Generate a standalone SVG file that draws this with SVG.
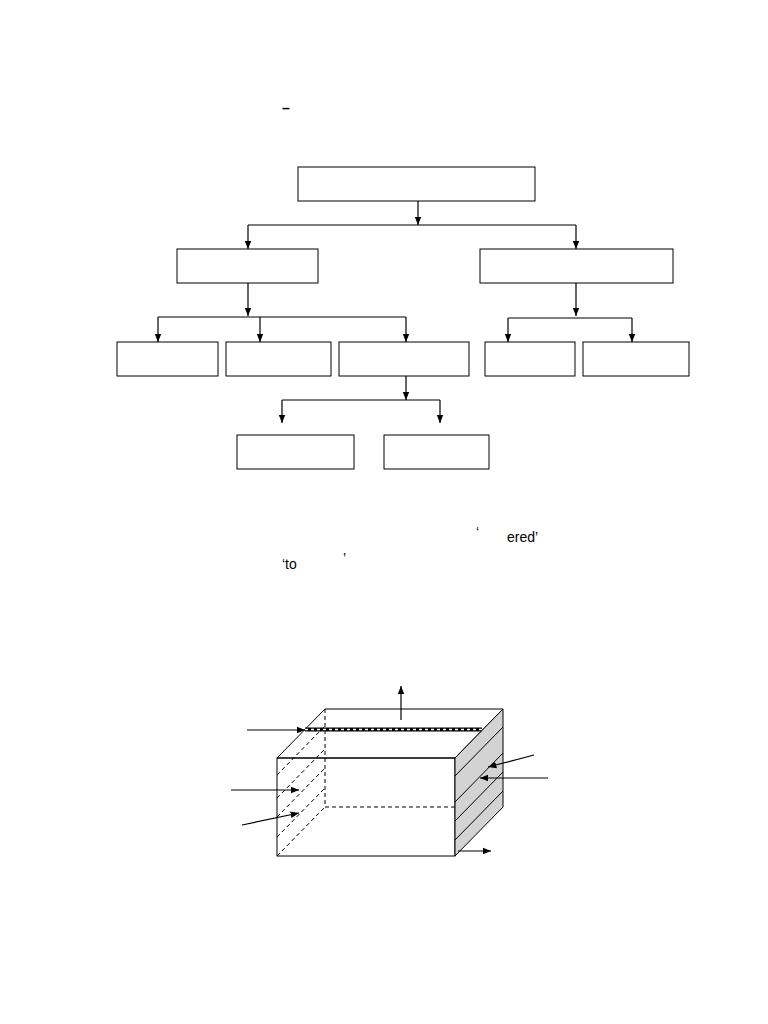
<svg xmlns="http://www.w3.org/2000/svg" width="768" height="1024" viewBox="0 0 768 1024">
<style>
.b{fill:#fff;stroke:#000;stroke-width:1}
.c{fill:none;stroke:#000;stroke-width:1.2}
.t{font-family:"Liberation Sans",Arial,sans-serif;font-size:14px;fill:#000}
.d{fill:none;stroke:#000;stroke-width:1;stroke-dasharray:4,3}
</style>
<defs>
<marker id="a" viewBox="0 0 10 10" refX="10" refY="5" markerWidth="7" markerHeight="7" orient="auto"><path d="M0,1 L10,5 L0,9 Z" fill="#000"/></marker>
</defs>
<rect width="768" height="1024" fill="#fff"/>
<text class="t" x="282" y="113" font-weight="bold" font-size="16">–</text>
<g id="connectors" class="c">
<path d="M418,201 V225" marker-end="url(#a)"/>
<path d="M248,225 H576"/>
<path d="M248,225 V249" marker-end="url(#a)"/>
<path d="M576,225 V249" marker-end="url(#a)"/>
<path d="M248,283 V316" marker-end="url(#a)"/>
<path d="M158,317 H406"/>
<path d="M158,317 V342" marker-end="url(#a)"/>
<path d="M260,317 V342" marker-end="url(#a)"/>
<path d="M406,317 V342" marker-end="url(#a)"/>
<path d="M576,283 V316" marker-end="url(#a)"/>
<path d="M508,318 H632"/>
<path d="M508,318 V342" marker-end="url(#a)"/>
<path d="M632,318 V342" marker-end="url(#a)"/>
<path d="M406,376 V400" marker-end="url(#a)"/>
<path d="M282,400 H440"/>
<path d="M282,400 V423" marker-end="url(#a)"/>
<path d="M440,400 V423" marker-end="url(#a)"/>
</g>
<g id="n1"><rect class="b" x="298" y="167" width="237" height="34"/></g>
<g id="n2"><rect class="b" x="177" y="249" width="141" height="34"/></g>
<g id="n3"><rect class="b" x="480" y="249" width="193" height="34"/></g>
<g id="n4"><rect class="b" x="117" y="342" width="101" height="34"/></g>
<g id="n5"><rect class="b" x="226" y="342" width="105" height="34"/></g>
<g id="n6"><rect class="b" x="339" y="342" width="130" height="34"/></g>
<g id="n7"><rect class="b" x="485" y="342" width="90" height="34"/></g>
<g id="n8"><rect class="b" x="583" y="342" width="106" height="34"/></g>
<g id="n9"><rect class="b" x="237" y="435" width="117" height="34"/></g>
<g id="n10"><rect class="b" x="384" y="435" width="105" height="34"/></g>
<text class="t" x="476" y="537" font-size="9">‘</text>
<text class="t" x="507" y="542">ered’</text>
<text class="t" x="282" y="569">‘to</text>
<text class="t" x="343" y="563" font-size="9">’</text>
<g id="box">
<path d="M325,709 V807 H503 M277,856 L325,807" class="d"/>
<path d="M277,775 L325,726 M277,798 L325,749 M277,817 L325,768 M277,837 L325,788" class="d"/>
<rect x="277" y="758" width="178" height="98" fill="none" stroke="#000"/>
<path d="M277,758 L325,709 H503 L455,758 Z" fill="none" stroke="#000"/>
<path d="M455,758 L503,709 V807 L455,856 Z" fill="#d3d3d3" stroke="#000"/>
<path d="M455,776 L503,727 M455,802 L503,753 M455,821 L503,772 M455,840 L503,791" stroke="#000" fill="none"/>
<path d="M305,729.5 H482" stroke="#000" stroke-width="4" fill="none"/>
<path d="M305,729.5 H482" stroke="#fff" stroke-width="1.5" stroke-dasharray="3,3" fill="none"/>
</g>
<g id="arrows" class="c">
<path d="M401,720 V686" marker-end="url(#a)"/>
<path d="M247,730 H305" marker-end="url(#a)"/>
<path d="M231,790 H299" marker-end="url(#a)"/>
<path d="M242,825 L299,813" marker-end="url(#a)"/>
<path d="M534,755 L488,767" marker-end="url(#a)"/>
<path d="M548,778 H480" marker-end="url(#a)"/>
<path d="M458,851 H491" marker-end="url(#a)"/>
</g>
</svg>
